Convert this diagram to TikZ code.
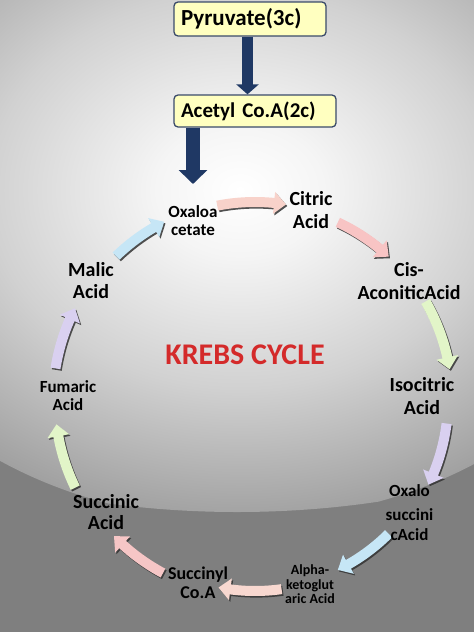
\documentclass[tikz,border=0pt]{standalone}
\usepackage{fontspec}
\setmainfont{Carlito}
\usetikzlibrary{arrows.meta,calc}
\definecolor{navyarrow}{HTML}{1F3864}
\definecolor{boxfill}{HTML}{FFFFC0}
\definecolor{boxborder}{HTML}{3A4A6A}
\definecolor{bggrey}{HTML}{7F7F7F}
\definecolor{titlered}{HTML}{D42A2A}
\definecolor{arPinkA}{HTML}{F8D2CA}
\definecolor{arPinkB}{HTML}{F8C4C4}
\definecolor{arPinkC}{HTML}{F6C6C6}
\definecolor{arPeach}{HTML}{F8D8D0}
\definecolor{arGreen}{HTML}{E2F5C8}
\definecolor{arLav}{HTML}{D9D0F0}
\definecolor{arBlue}{HTML}{C6E6F6}
\pgfdeclareradialshading{bgshade}{\pgfpoint{0bp}{0bp}}{color(0bp)=(white); color(5bp)=(white!96!black); color(15bp)=(black!18); color(25bp)=(black!37); color(50bp)=(black!37)}
\newcommand{\cycarrow}[4]{%
  \pgfmathsetmacro{\hb}{#2+180/pi*12/#3}%
  \pgfmathsetmacro{\ro}{#3+5}\pgfmathsetmacro{\ri}{#3-5}%
  \pgfmathsetmacro{\hro}{#3+11}\pgfmathsetmacro{\hri}{#3-11}%
  \begin{scope}[shift={(C)}]
    \fill[black!80, opacity=.85, shift={(1.3,-1.6)}] (#1:\ro pt) arc[start angle=#1, end angle=\hb, radius=\ro pt] -- (\hb:\hro pt) -- (#2:#3 pt) -- (\hb:\hri pt) -- (\hb:\ri pt) arc[start angle=\hb, end angle=#1, radius=\ri pt] -- cycle;
    \fill[#4] (#1:\ro pt) arc[start angle=#1, end angle=\hb, radius=\ro pt] -- (\hb:\hro pt) -- (#2:#3 pt) -- (\hb:\hri pt) -- (\hb:\ri pt) arc[start angle=\hb, end angle=#1, radius=\ri pt] -- cycle;
  \end{scope}}
\tikzset{
  ybox/.style={draw=boxborder, line width=1.3pt, fill=boxfill, rounded corners=4pt, inner xsep=7pt, inner ysep=0pt, align=left, font=\bfseries},
  lbl/.style={align=center, inner sep=0pt, text=black, font=\bfseries},
  bigarrow/.style={navyarrow, line width=#1}
}
\begin{document}
\begin{tikzpicture}[x=1pt,y=1pt]
\useasboundingbox (0,0) rectangle (474,-632);
\fill[bggrey] (0,0) rectangle (474,-632);
\begin{scope}
  \clip (0,0) rectangle (474,-632);
  \clip (237,-200) ellipse [x radius=552, y radius=312];
  \shade[shading=bgshade] (240,-190) ellipse [x radius=420, y radius=330];
\end{scope}
\coordinate (C) at (255,-400);

% boxes
\node[ybox, text width=138pt, minimum height=34pt, font=\bfseries\fontsize{23}{26}\selectfont] (pyr) at (250,-19) {Pyruvate(3c)};
\node[ybox, text width=148pt, minimum height=32pt, font=\bfseries\fontsize{21}{24}\selectfont] (acet) at (255,-111) {Acetyl Co.A(2c)};
\coordinate (entry) at (193,-184);
\draw[bigarrow=11pt, -{Triangle[width=22pt,length=10pt]}] ($(pyr.south)+(-2.5,0)$) -- ($(acet.north)+(-7.5,0)$);
\draw[bigarrow=14pt, -{Triangle[width=28pt,length=14pt]}] ($(acet.south)+(-62,0)$) -- (entry);

% cycle arrows
\cycarrow{101}{81}{198}{arPinkA}
\cycarrow{65}{47}{196}{arPinkB}
\cycarrow{30}{9}{197}{arGreen}
\cycarrow{-7}{-26}{193}{arLav}
\cycarrow{-45}{-64}{189}{arBlue}
\cycarrow{-82}{-101}{191}{arPeach}
\cycarrow{-118}{-136}{196}{arPinkC}
\cycarrow{-154}{-173}{200}{arGreen}
\cycarrow{171}{153}{202}{arLav}
\cycarrow{134}{117}{200}{arBlue}

% labels
\node[lbl, font=\bfseries\fontsize{17}{18}\selectfont] (oaa) at (193,-221) {Oxaloa\\cetate};
\node[lbl, font=\bfseries\fontsize{20}{23}\selectfont] (cit) at (311,-210.5) {Citric\\Acid};
\node[lbl, font=\bfseries\fontsize{20}{23}\selectfont] (cis) at (409,-281.5) {Cis-\\AconiticAcid};
\node[lbl, font=\bfseries\fontsize{20}{23}\selectfont] (iso) at (422,-396.5) {Isocitric\\Acid};
\node[lbl, font=\bfseries\fontsize{17}{20}\selectfont] (oxs) at (409.5,-513) {Oxalo\\[4pt]succini\\cAcid};
\node[lbl, font=\bfseries\fontsize{14}{14.5}\selectfont] (akg) at (310,-584.5) {Alpha-\\ketoglut\\aric Acid};
\node[lbl, font=\bfseries\fontsize{18}{19}\selectfont] (sca) at (198,-583) {Succinyl\\Co.A};
\node[lbl, font=\bfseries\fontsize{20}{21}\selectfont] (suc) at (106,-512.5) {Succinic\\Acid};
\node[lbl, font=\bfseries\fontsize{17}{18}\selectfont] (fum) at (68,-396) {Fumaric\\Acid};
\node[lbl, font=\bfseries\fontsize{20}{22}\selectfont] (mal) at (91,-281) {Malic\\Acid};
\node[lbl, text=titlered, font=\bfseries\fontsize{30}{32}\selectfont] (title) at (245,-355) {KREBS CYCLE};
\end{tikzpicture}
\end{document}
